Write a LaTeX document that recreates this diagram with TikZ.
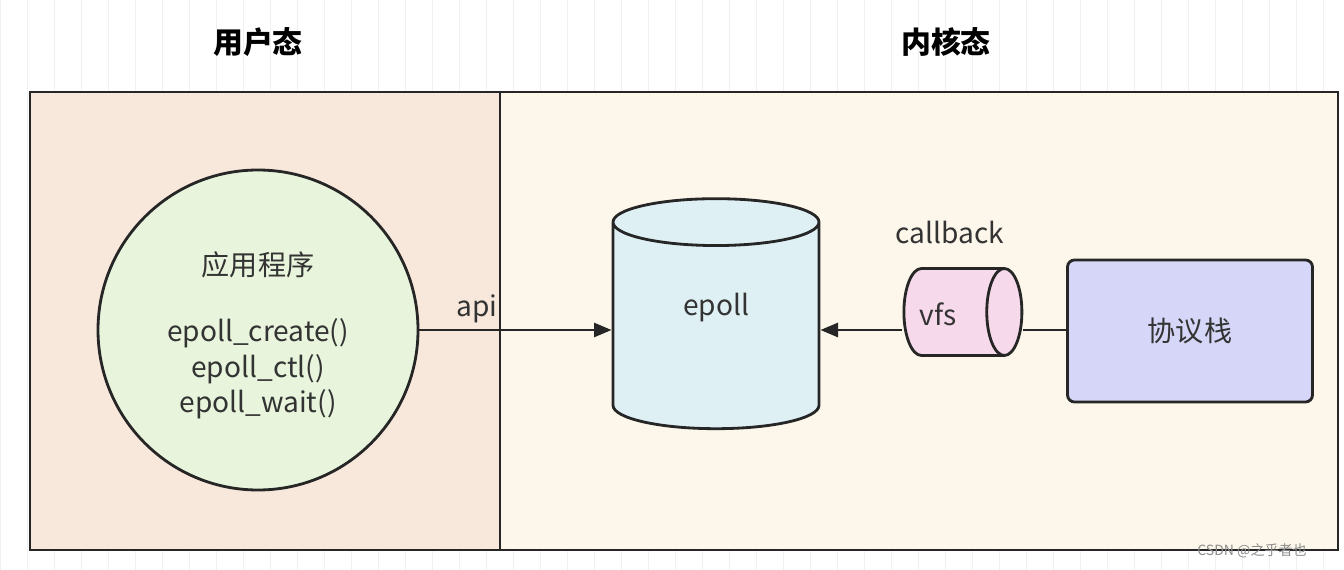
\documentclass[tikz,border=0pt]{standalone}
\usepackage{fontspec}
\setmainfont{Noto Sans CJK SC}
\usetikzlibrary{shapes.geometric,arrows.meta}
\definecolor{userbg}{HTML}{F8E8DC}
\definecolor{kernbg}{HTML}{FCF7EA}
\definecolor{appfill}{HTML}{E8F5DC}
\definecolor{epfill}{HTML}{DFF0F5}
\definecolor{vfsfill}{HTML}{F6D9EA}
\definecolor{stackfill}{HTML}{D6D6F8}
\tikzset{
  panel/.style = {draw=black!85, line width=1.6pt},
  title/.style = {font=\fontsize{17}{20}\selectfont\bfseries},
  body/.style = {font=\fontsize{16}{20}\selectfont, text=black!80},
  line/.style = {draw=black!85, line width=1.5pt, -{Triangle[length=10pt,width=8pt]}},
}
\begin{document}
\begin{tikzpicture}[x=0.02cm,y=-0.02cm]
  \useasboundingbox (0,0) rectangle (1344,570);
  \fill[white] (0,0) rectangle (1344,570);
  \draw[black!6] (0,0) grid[step=27] (1344,570);
  % panels
  \node [title] (user_title) at (258,42) {用户态};
  \node [title] (kern_title) at (946,42) {内核态};
  \filldraw[panel, fill=userbg] (30,92) rectangle (500,550);
  \filldraw[panel, fill=kernbg] (500,92) rectangle (1338,550);
  % user side
  \node [circle, draw=black!85, line width=1.6pt, fill=appfill, minimum size=320*0.02cm] (app) at (258,330) {};
  \node [body, align=center] (app_text) at (258,335) {应用程序\\[18pt]epoll\_create()\\epoll\_ctl()\\epoll\_wait()};
  % kernel side
  \node [cylinder, shape border rotate=90, draw=black!85, line width=1.6pt, fill=epfill,
         minimum width=206*0.02cm, minimum height=230*0.02cm, aspect=4] (epoll) at (716,330) {};
  \node [body] (epoll_text) at (716,308) {epoll};
  \node [cylinder, draw=black!85, line width=1.6pt, fill=vfsfill,
         minimum width=87*0.02cm, minimum height=118*0.02cm, aspect=3] (vfs) at (949,312) {};
  \node [body] (vfs_text) at (938,314) {vfs};
  \node [body] (callback) at (950,232) {callback};
  \node [draw=black!85, line width=1.6pt, fill=stackfill, rounded corners=4pt,
         minimum width=245*0.02cm, minimum height=142*0.02cm] (stack) at (1190,331) {};
  \node [body] (stack_text) at (1190,331) {协议栈};
  % connectors
  \path [line] (app.east) -- node[body, above, pos=0.3] {api} (epoll.west |- app.east);
  \draw [draw=black!85, line width=1.5pt] (stack.west |- 0,330) -- (vfs.east |- 0,330);
  \path [line] (vfs.west |- 0,330) -- (epoll.east |- 0,330);
  \node [text=black!45, font=\fontsize{8}{9}\selectfont] (mark) at (1252,551) {CSDN @之乎者也};
\end{tikzpicture}
\end{document}
